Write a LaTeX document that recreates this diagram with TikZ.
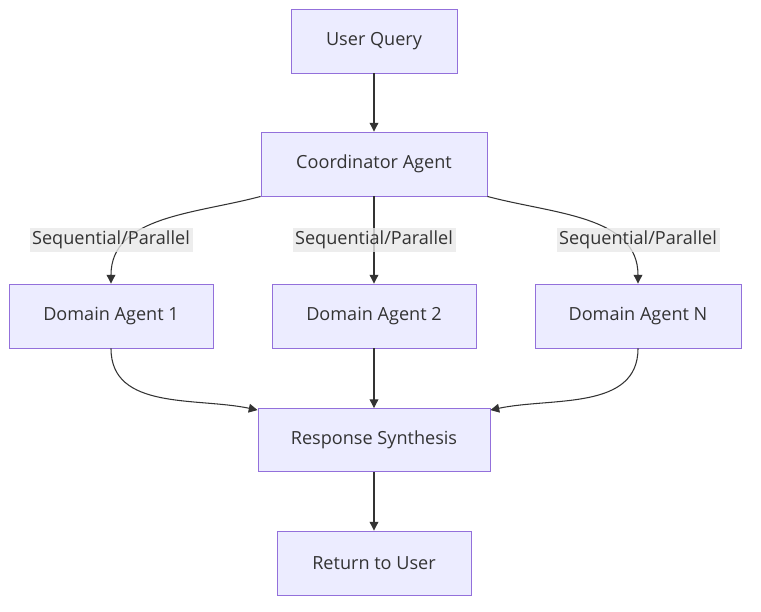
\documentclass[tikz,border=0pt]{standalone}
\usepackage{fontspec}
\setmainfont{Open Sans}
\usetikzlibrary{arrows.meta}
\definecolor{boxfill}{HTML}{ECECFF}
\definecolor{boxline}{HTML}{9370DB}
\definecolor{edge}{HTML}{333333}
\definecolor{lblfill}{HTML}{E8E8E8}

\begin{document}
\begin{tikzpicture}[x=0.02cm,y=-0.02cm,
	box/.style={rectangle,draw=boxline,fill=boxfill,line width=0.5pt,inner sep=0pt,font=\fontsize{10.3}{12}\selectfont,text=edge},
	lbl/.style={fill=lblfill,fill opacity=0.8,text opacity=1,inner sep=1.5pt,font=\fontsize{10.3}{12}\selectfont,text=edge},
	flow/.style={draw=edge,line width=0.6pt,-{Triangle[length=5pt,width=5pt]}}]

	\useasboundingbox (0,0) rectangle (761,612);

	% nodes

	\node[box,minimum width=166*0.02cm,minimum height=64*0.02cm] (query) at (374,41) {User Query};
	\node[box,minimum width=226*0.02cm,minimum height=64*0.02cm] (coord) at (374,164) {Coordinator Agent};
	\node[box,minimum width=204*0.02cm,minimum height=64*0.02cm] (dom1) at (111,316) {Domain Agent 1};
	\node[box,minimum width=204*0.02cm,minimum height=64*0.02cm] (dom2) at (374,316) {Domain Agent 2};
	\node[box,minimum width=206*0.02cm,minimum height=64*0.02cm] (domN) at (638,316) {Domain Agent N};
	\node[box,minimum width=232*0.02cm,minimum height=63*0.02cm] (synth) at (374,440) {Response Synthesis};
	\node[box,minimum width=194*0.02cm,minimum height=64*0.02cm] (ret) at (374,563) {Return to User};

	% edges

	\draw[flow] (query) -- (coord);
	\draw[flow] (coord.south west) to[out=-165,in=90] (dom1.north);
	\draw[flow] (coord) -- (dom2);
	\draw[flow] (coord.south east) to[out=-15,in=90] (domN.north);
	\draw[flow] (dom1.south) to[out=-90,in=168] ([yshift=-0.04cm]synth.north west);
	\draw[flow] (dom2) -- (synth);
	\draw[flow] (domN.south) to[out=-90,in=12] ([yshift=-0.04cm]synth.north east);
	\draw[flow] (synth) -- (ret);

	% edge labels

	\node[lbl] (lbl1) at (111,240) {Sequential/Parallel};
	\node[lbl] (lbl2) at (374,240) {Sequential/Parallel};
	\node[lbl] (lblN) at (638,240) {Sequential/Parallel};

\end{tikzpicture}
\end{document}
